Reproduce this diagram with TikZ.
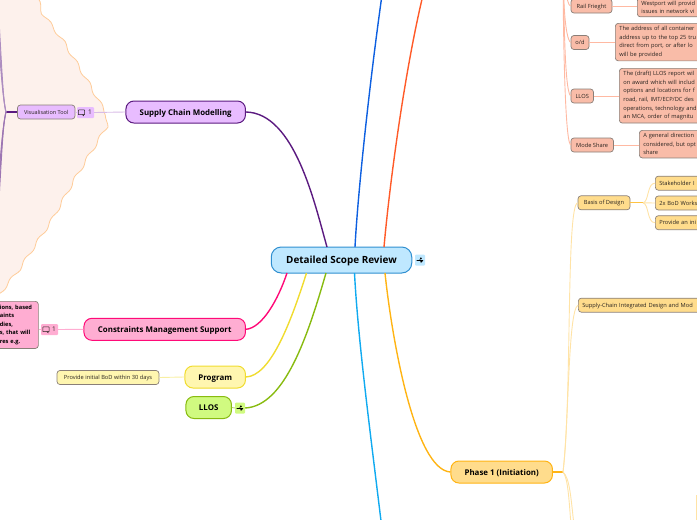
\documentclass[tikz,border=0pt]{standalone}
\usepackage{fontspec}
\setmainfont{Open Sans}
\usetikzlibrary{calc,decorations.pathmorphing}
\definecolor{rootfill}{HTML}{BFE8FF}
\definecolor{rootline}{HTML}{2F8FD0}
\definecolor{chainfill}{HTML}{E8BCFF}
\definecolor{chainline}{HTML}{5B1A80}
\definecolor{chainpale}{HTML}{D8BCE6}
\definecolor{pinkfill}{HTML}{FFADD2}
\definecolor{pinkline}{HTML}{FF0A78}
\definecolor{progfill}{HTML}{FFF6B0}
\definecolor{progline}{HTML}{F0DC30}
\definecolor{llosfill}{HTML}{D0FA80}
\definecolor{llosline}{HTML}{88BB10}
\definecolor{phasefill}{HTML}{FFDC8C}
\definecolor{phaseline}{HTML}{FFB414}
\definecolor{phasepale}{HTML}{FFE3A6}
\definecolor{rustfill}{HTML}{F9BCA8}
\definecolor{rustpale}{HTML}{FFB9A2}
\definecolor{redline}{HTML}{FF5A28}
\definecolor{blueline}{HTML}{0D5FE0}
\definecolor{skyline}{HTML}{10AAF0}
\definecolor{cloudfill}{HTML}{FDF1EC}
\definecolor{cloudline}{HTML}{FFCC99}
\definecolor{smallline}{HTML}{8A7F78}
\definecolor{smalltext}{HTML}{2A2420}
\tikzset{
    topicbox/.style={draw=#1,line width=1pt,rounded corners=8pt,text=black,minimum height=22pt,inner sep=0pt,text height=6pt,text depth=0pt,
        font=\fontsize{7.9}{10}\selectfont\bfseries},
    smallbox/.style={draw=smallline,line width=.7pt,rounded corners=3pt,text=smalltext,minimum height=14pt,inner xsep=4pt,inner ysep=0pt,
        font=\fontsize{5.7}{8.6}\selectfont},
    linebox/.style={smallbox,anchor=west,align=left,text width=#1,text height=4pt,text depth=0pt},
    linebox/.default=100pt,
    textbox/.style={smallbox,anchor=north west,align=left,inner ysep=3pt,text width=#1},
    textbox/.default=100pt,
    tabbox/.style={fill=#1,rounded corners=1pt,minimum width=17pt,minimum height=11pt,inner sep=0pt},
    iconbox/.style={fill=#1,rounded corners=1pt,minimum width=10pt,minimum height=11pt,inner sep=0pt},
    thickline/.style={line width=1.4pt},
    paleline/.style={line width=.9pt},
    pics/commenticon/.style={code={
        \draw[smalltext,line width=.5pt,rounded corners=.5pt] (-3.2,-2.6) rectangle (3.2,2.2);
        \fill[smalltext] (0.6,2.2) -- (2.4,2.2) -- (2.4,3.8) -- cycle;
    }},
    pics/mapicon/.style={code={
        \draw[black,line width=.6pt] (-3.5,.5) -- (-.5,.5) (-.5,.5) -- (1,-2.5) (-.5,.5) -- (3,.5) (1,.5) -- (1,2.5);
        \fill[black] (1,-1.5) circle (.9) (1.5,1.3) circle (1.1);
    }}
}
\begin{document}
\begin{tikzpicture}[x=1pt,y=-1pt]
    \useasboundingbox (0,0) rectangle (697,520);
    \clip (0,0) rectangle (697,520);

    % cloud behind the modelling branch
    \draw[cloudline,fill=cloudfill,line width=.8pt,decorate,decoration={snake,amplitude=1.4pt,segment length=24pt}]
        (-10,-10) -- (33,-10) -- (40,10) -- (60,37) -- (83,75) -- (100,105) -- (100,123) -- (67,177) -- (43,220) -- (10,270) -- (-10,295) -- cycle;

    \node[topicbox=rootline,fill=rootfill,minimum width=140.5pt,minimum height=26pt,rounded corners=10pt,text height=7pt,font=\fontsize{9.9}{12}\selectfont\bfseries] (root) at (341.5,260) {Detailed Scope Review};
    \node[iconbox=rootfill] (roottab) at (420,260) {};
    \pic at (roottab) {mapicon};

    \node[topicbox=chainline,fill=chainfill,minimum width=119.5pt] (chain) at (185.7,112) {Supply Chain Modelling};
    \node[tabbox=chainfill] (chaintab) at (85.5,112.5) {};
    \pic at (81.5,112.5) {commenticon};
    \node[text=smalltext,inner sep=0pt,font=\fontsize{6.5}{8}\selectfont] (chaincount) at (90,112.5) {1};
    \node[smallbox,fill=chainfill,minimum width=57.5pt,text height=4pt,text depth=0pt,font=\fontsize{5.5}{8.6}\selectfont] (vis) at (46.2,112) {Visualisation Tool};

    \node[topicbox=pinkline,fill=pinkfill,minimum width=161.5pt] (constraints) at (164.7,329.3) {Constraints Management Support};
    \node[tabbox=pinkfill] (pinktab) at (49.5,329.5) {};
    \pic at (46,329.5) {commenticon};
    \node[text=smalltext,inner sep=0pt,font=\fontsize{6.5}{8}\selectfont] (pinkcount) at (54,329.5) {1};
    \node[smallbox,fill=pinkfill,anchor=north west,align=left,text width=34pt,inner xsep=4.5pt,inner ysep=3.5pt,text=black] (pinkbox) at (-5,301)
        {\bfseries ions, based\\\bfseries aints\\dies,\\s, that will\\res e.g.\\[1pt]};

    \node[topicbox=progline,fill=progfill,minimum width=60.5pt] (program) at (215.2,377) {Program};
    \node[smallbox,fill=progfill,minimum width=102pt,text height=4pt,text depth=0pt] (bod) at (108,377.5) {Provide initial BoD within 30 days};
    \node[topicbox=llosline,fill=llosfill,minimum width=45.5pt] (llos) at (208.7,407.5) {LLOS};
    \node[iconbox=llosfill] (llostab) at (240,408) {};
    \pic at (llostab) {mapicon};

    \node[topicbox=phaseline,fill=phasefill,minimum width=101.5pt] (phase) at (501.7,472) {Phase 1 (Initiation)};

    % right hand boxes, they run off the page
    \node[smallbox,fill=rustfill,minimum width=41pt,text height=4pt,text depth=0pt] (rail) at (591.5,6) {Rail Frieght};
    \node[textbox,fill=rustfill] (westport) at (637,-2.5) {Westport will provid\\issues in network vi};
    \node[smallbox,fill=rustfill,minimum width=18pt,text height=4pt,text depth=0pt] (od) at (580,42.5) {o/d};
    \node[textbox,fill=rustfill] (address) at (615,23) {The address of all container\\address up to the top 25 tru\\direct from port, or after lo\\will be provided};
    \node[smallbox,fill=rustfill,minimum width=22.5pt,text height=4pt,text depth=0pt] (llositem) at (582.2,96) {LLOS};
    \node[textbox,fill=rustfill] (report) at (619,68) {The (draft) LLOS report wil\\on award which will includ\\options and locations for f\\road, rail, IMT/ECP/DC des\\operations, technology and\\an MCA, order of magnitu};
    \node[smallbox,fill=rustfill,minimum width=42.5pt,text height=4pt,text depth=0pt] (mode) at (592.2,145) {Mode Share};
    \node[textbox,fill=rustfill] (general) at (639,130) {A general direction\\considered, but opt\\share};

    \node[smallbox,fill=phasefill,minimum width=52pt,text height=4pt,text depth=0pt] (basis) at (604,202.8) {Basis of Design};
    \node[linebox,fill=phasefill] (stake) at (655,183.2) {Stakeholder I};
    \node[linebox,fill=phasefill] (work) at (655,203) {2x BoD Works};
    \node[linebox,fill=phasefill] (init) at (655,222.7) {Provide an ini};
    \node[linebox=160pt,fill=phasefill] (design) at (578,305.2) {Supply-Chain Integrated Design and Mod};

    % free ends and hubs
    \coordinate (bluetop) at (382,-5);
    \coordinate (redtop) at (423,-5);
    \coordinate (skyend) at (381.5,525);
    \coordinate (rusthub) at (563,-40);
    \coordinate (visoff) at (6,112);
    \coordinate (visup) at (-1,20);
    \coordinate (visdown) at (-1,200);
    \coordinate (phasehub) at (563,472);
    \coordinate (phasedown) at (571,525);
    \coordinate (phasedowntwo) at (574,525);
    \coordinate (farright) at (696,495);
    \coordinate (farend) at (696,525);
    \coordinate (basishub) at (643,202.8);

    % branches of the root
    \draw[thickline,chainline] (chain.east) .. controls (295,113) and (315,205) .. (327,247);
    \draw[thickline,pinkline] (constraints.east) .. controls (262,328) and (278,300) .. (287,273);
    \draw[thickline,progline] (program.east) .. controls (270,376) and (290,325) .. (306.5,273);
    \draw[thickline,llosline] (llostab.east) .. controls (285,406) and (308,335) .. (326,273);
    \draw[thickline,blueline] (355,247) .. controls (358,190) and (370,80) .. (bluetop);
    \draw[thickline,redline] (384,247) .. controls (390,180) and (405,70) .. (redtop);
    \draw[thickline,skyline] (354.5,273) .. controls (358,340) and (370,430) .. (skyend);
    \draw[thickline,phaseline] (385,273) .. controls (392,340) and (415,470) .. (phase.west);

    % tabs and their topics
    \draw[paleline,chainpale] (chain.west) -- (chaintab.east);
    \draw[paleline,chainpale] (chaintab.west) -- (vis.east);
    \draw[paleline,pinkfill] (constraints.west) -- (pinktab.east);
    \draw[paleline,pinkfill] (pinktab.west) -- (pinkbox.east|-pinktab);
    \draw[paleline,progline!45] (program.west) -- (bod.east);
    \draw[paleline,llosline!60] (llos.east) -- (llostab.west);

    % purple bundle
    \draw[line width=1.2pt,chainline] (vis.west) -- (visoff);
    \foreach \dx in {0,1.5,3}{
        \draw[paleline,chainline!50] (visoff) .. controls (3,100) and (2-\dx/2,70) .. ($(visup)+(-\dx/2,0)$);
        \draw[paleline,chainline!60] (visoff) .. controls (3,124) and (2-\dx/2,150) .. ($(visdown)+(-\dx/2,0)$);
    }

    % rust bundle
    \draw[paleline,rustpale] (rusthub) .. controls (565,-20) and (566,5) .. (rail.west);
    \draw[paleline,rustpale] (rusthub) .. controls (563,0) and (565,38) .. (od.west);
    \draw[paleline,rustpale] (rusthub) .. controls (564,0) and (564,90) .. (llositem.west);
    \draw[paleline,rustpale] (rusthub) .. controls (563,0) and (564,140) .. (mode.west);
    \draw[paleline,rustpale] (rail.east) -- (westport.west|-rail);
    \draw[paleline,rustpale] (od.east) -- (address.west|-od);
    \draw[paleline,rustpale] (llositem.east) -- (report.west|-llositem);
    \draw[paleline,rustpale] (mode.east) -- (general.west|-mode);

    % phase bundle
    \draw[thickline,phaseline] (phase.east) -- (phasehub);
    \draw[paleline,phasepale] (phasehub) .. controls (572,400) and (566,205) .. (basis.west);
    \draw[paleline,phasepale] (phasehub) .. controls (569,420) and (568,310) .. (design.west);
    \draw[paleline,phasepale] (phasehub) .. controls (568,478) and (569,500) .. (phasedown);
    \draw[paleline,phasepale] (phasehub) .. controls (570,478) and (571,500) .. (phasedowntwo);
    \draw[paleline,phasepale] (farright) -- (farend);

    \draw[line width=1.2pt,phaseline!80] (basis.east) -- (basishub);
    \draw[paleline,phasepale] (basishub) .. controls (649,202) and (647,183) .. (stake.west);
    \draw[paleline,phasepale] (basishub) -- (work.west);
    \draw[paleline,phasepale] (basishub) .. controls (649,204) and (647,223) .. (init.west);
\end{tikzpicture}
\end{document}
